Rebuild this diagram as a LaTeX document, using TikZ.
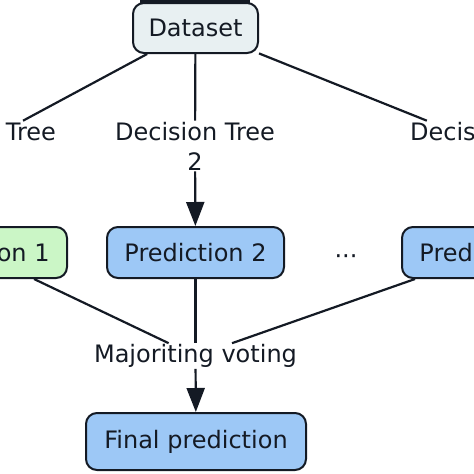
\documentclass[tikz,border=0pt]{standalone}
\usepackage{fontspec}
\setmainfont{DejaVu Sans}
\usetikzlibrary{arrows.meta,positioning}
\definecolor{rfgray}{HTML}{E8F0F2}
\definecolor{rfblue}{HTML}{9DC8F6}
\definecolor{rfgreen}{HTML}{CBF6C6}
\definecolor{rfline}{HTML}{141A24}

\begin{document}
\begin{tikzpicture}[
    x=1pt, y=-1pt,
    predbox/.style={rectangle, rounded corners=11pt, draw=rfline, line width=2pt, minimum width=177pt, minimum height=51pt, inner sep=0pt, font=\fontsize{24}{30}\selectfont, text=rfline},
    treelabel/.style={align=center, inner sep=1pt, font=\fontsize{24}{30}\selectfont, text=rfline},
    link/.style={draw=rfline, line width=2.2pt},
    arrow/.style={-{Triangle[length=24pt,width=18pt]}, line width=2.2pt, draw=rfline}
]
    \useasboundingbox (0,0) rectangle (474,474);
    \clip (0,0) rectangle (474,474);
    \fill [rfline] (140,0) rectangle (250,3);

    % Node Dataset
    \node (ds) [predbox, fill=rfgray, minimum width=125pt, minimum height=50pt] at (195.5,28) {Dataset};

    % Tree labels
    \node (dt1) [treelabel] at (-24,146) {Decision Tree\\1};
    \node (dt2) [treelabel] at (195,146) {Decision Tree\\2};
    \node (dtn) [treelabel] at (490,146) {Decision Tree\\n};

    % Predictions
    \node (p2) [predbox, fill=rfblue] at (195.5,252.5) {Prediction 2};
    \node (p1) [predbox, fill=rfgreen, left=38pt of p2] {Prediction 1};
    \node (pn) [predbox, fill=rfblue, right=116pt of p2] {Prediction n};
    \node (dots) [treelabel] at (346,260) {···};

    % Voting and result
    \node (mv) [treelabel] at (195.5,356) {Majoriting voting};
    \node (fp) [predbox, fill=rfblue, minimum width=220pt, minimum height=57pt] at (196,441.5) {Final prediction};

    % Connectors
    \draw [link] (ds) -- (dt1);
    \draw [link] (ds) -- (dt2);
    \draw [link] (ds) -- (dtn);
    \draw [arrow] (dt2) -- (p2);
    \draw [link] (p1) -- (mv);
    \draw [link] (p2) -- (mv);
    \draw [link] (pn) -- (mv);
    \draw [arrow] (mv) -- (fp);
\end{tikzpicture}
\end{document}
